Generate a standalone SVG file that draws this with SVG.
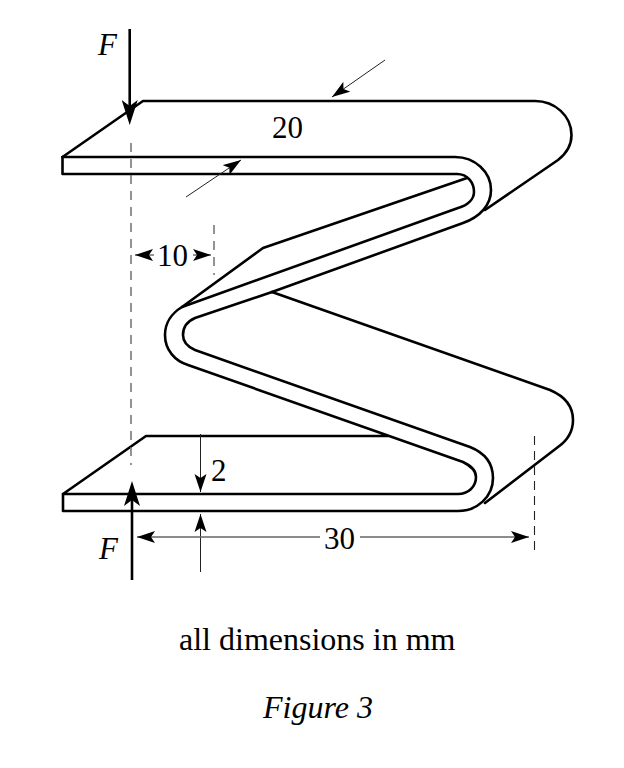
<svg xmlns="http://www.w3.org/2000/svg" width="624" height="768" viewBox="0 0 624 768">
<style>
.body{fill:none;stroke:#000;stroke-width:2.6;stroke-linejoin:round;stroke-linecap:round}
.force{fill:none;stroke:#000;stroke-width:2.6}
.thin{fill:none;stroke:#222;stroke-width:1}
.dim{fill:none;stroke:#666;stroke-width:1.4}
.dash{fill:none;stroke:#666;stroke-width:1.4;stroke-dasharray:9 7}
.dashk{fill:none;stroke:#222;stroke-width:1.1;stroke-dasharray:9 6}
text{font-family:"Liberation Serif","Times New Roman",serif;fill:#000}
.lab{font-size:31px}
.cap{font-size:32px}
.it{font-style:italic}
</style>
<defs>
<marker id="big" markerUnits="userSpaceOnUse" markerWidth="25" markerHeight="16" refX="15" refY="8" orient="auto" viewBox="0 0 25 16"><path d="M0 0L25 8L0 16L6 8Z" fill="#000"/></marker>
<marker id="sm" markerUnits="userSpaceOnUse" markerWidth="19" markerHeight="13" refX="18" refY="6.5" orient="auto" viewBox="0 0 19 13"><path d="M0 0.500L18 6.500L0 12.500L4 6.500Z" fill="#000"/></marker>
</defs>
<rect width="624" height="768" fill="#fff"/>
<g id="spring">
<path class="body" d="M62.500 157L143 101H535C555 101 571.500 116 571.500 135C571.500 145 567 153 558 160L485 210"/>
<path class="body" d="M62.500 157V174H457C468 174 474 183 474 192C474 199 468 205 458 208L182 307"/>
<path class="body" d="M62.500 157H455C475 157 491 172 491 190C491 205 480 217 463 223L272 292"/>
<path class="body" d="M467 178L263 248L182 307C172 313 165 323 165 335C165 350 175 361 188 365L463 462C471 466 476 470 476 477C476 487 468 494 458 494H63L146 436H388"/>
<path class="body" d="M272 292L195 318C188 321 183 327 183 335C183 342 188 347 195 350L470 447C485 453 493 464 493 478C493 497 477 511 458 511H63V494"/>
<path class="body" d="M272 292L550 390C564 396 573 406 573 420C573 431 568 440 558 447L485 503"/>
</g>
<g id="connectors">
<path class="dash" d="M131 143V465"/>
<path class="dash" d="M214 225V275"/>
<path class="dashk" d="M534.500 436V555"/>
<path class="force" d="M129.700 29V115" marker-end="url(#big)"/>
<path class="force" d="M132 580V491" marker-end="url(#big)"/>
<path class="thin" d="M385 60L332 97" marker-end="url(#sm)"/>
<path class="thin" d="M186 197L241 160" marker-end="url(#sm)"/>
<path class="thin" d="M200.500 434V492" marker-end="url(#sm)"/>
<path class="thin" d="M200.500 572V514" marker-end="url(#sm)"/>
<path class="dim" d="M154 255H135" marker-end="url(#sm)"/>
<path class="dim" d="M193 255H211" marker-end="url(#sm)"/>
<path class="dim" d="M320 537H137" marker-end="url(#sm)"/>
<path class="dim" d="M360 537H529" marker-end="url(#sm)"/>
</g>
<g id="labels">
<text class="lab it" x="98" y="55">F</text>
<text class="lab" x="272" y="138">20</text>
<text class="lab" x="157" y="266">10</text>
<text class="lab" x="211" y="481">2</text>
<text class="lab it" x="99" y="559">F</text>
<text class="lab" x="324" y="549">30</text>
<text class="cap" x="179" y="650">all dimensions in mm</text>
<text class="cap it" x="263" y="718">Figure 3</text>
</g>
</svg>
